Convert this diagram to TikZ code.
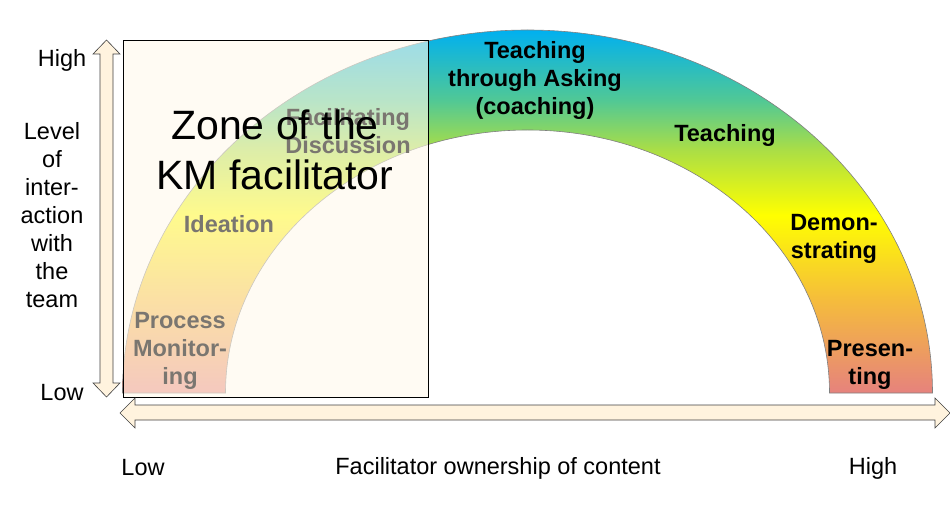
\documentclass[tikz,border=0pt]{standalone}
\usepackage{fontspec}
\setmainfont{Liberation Sans}
\definecolor{archC0}{RGB}{0,176,240}
\definecolor{archC1}{RGB}{80,200,150}
\definecolor{archC2}{RGB}{170,222,70}
\definecolor{archC3}{RGB}{255,255,0}
\definecolor{archC4}{RGB}{245,188,60}
\definecolor{archC5}{RGB}{230,130,125}
\definecolor{cream}{RGB}{255,243,222}
\definecolor{zonefill}{RGB}{255,248,235}
\definecolor{lbgray}{RGB}{122,118,112}
\pgfdeclareverticalshading{archsh}{100bp}{
 color(0bp)=(archC5); color(25bp)=(archC5); color(37.8bp)=(archC4);
 color(49.5bp)=(archC3); color(58.5bp)=(archC2); color(65.4bp)=(archC1);
 color(75bp)=(archC0); color(100bp)=(archC0)}
\tikzset{
 lab/.style={font=\fontsize{23.5}{28}\selectfont\bfseries, align=center, inner sep=0},
 glab/.style={lab, text=lbgray},
 ax/.style={font=\fontsize{23.5}{28}\selectfont, align=center, inner sep=0},
 harrow/.style={draw=black!75, fill=cream, line width=0.6pt}
}
\begin{document}
\begin{tikzpicture}[x=1pt,y=1pt]
\useasboundingbox (0,0) rectangle (950,504);
% arch
\path[shading=archsh] (122.5,111) arc[start angle=180,end angle=0,x radius=405,y radius=363]
  -- (829.5,111) arc[start angle=0,end angle=180,x radius=302,y radius=263] -- cycle;
\draw[gray, line width=0.6pt] (122.5,111) arc[start angle=180,end angle=0,x radius=405,y radius=363]
  -- (829.5,111) arc[start angle=0,end angle=180,x radius=302,y radius=263] -- cycle;
% zone rectangle
\fill[zonefill, fill opacity=0.6] (123,107) rectangle (428,464);
\draw[black, line width=0.8pt] (123,107) rectangle (428,464);
% vertical arrow
\draw[harrow] (106.5,464) -- (120,450) -- (113,450) -- (113,121) -- (120,121) -- (106.5,107)
 -- (93,121) -- (100,121) -- (100,450) -- (93,450) -- cycle;
% horizontal arrow
\draw[harrow] (120,91) -- (135,106) -- (135,99) -- (935,99) -- (935,106) -- (950,91)
 -- (935,76) -- (935,84) -- (135,84) -- (135,76) -- cycle;
% gray labels
\node[glab] (pm) at (180,153) {Process\\Monitor-\\ing};
\node[glab] (id) at (229,280) {Ideation};
\node[glab] (fd) at (348,373) {Facilitating\\Discussion};
% zone text
\node[font=\fontsize{41}{50}\selectfont, align=center, inner sep=0] (zone) at (275,354) {Zone of the\\KM facilitator};
% right labels
\node[lab] (tta) at (535,424) {Teaching\\through Asking\\(coaching)};
\node[lab] (te) at (725,369) {Teaching};
\node[lab] (de) at (834,265) {Demon-\\strating};
\node[lab] (pr) at (870,139) {Presen-\\ting};
% axis labels
\node[ax] (hi) at (62,444) {High};
\node[ax] (lo) at (62,111) {Low};
\node[ax] (lev) at (52,289) {Level\\of\\inter-\\action\\with\\the\\team};
\node[ax] (blo) at (143,36) {Low};
\node[ax] (fo) at (498,36) {Facilitator ownership of content};
\node[ax] (bhi) at (873,36) {High};
\end{tikzpicture}
\end{document}
